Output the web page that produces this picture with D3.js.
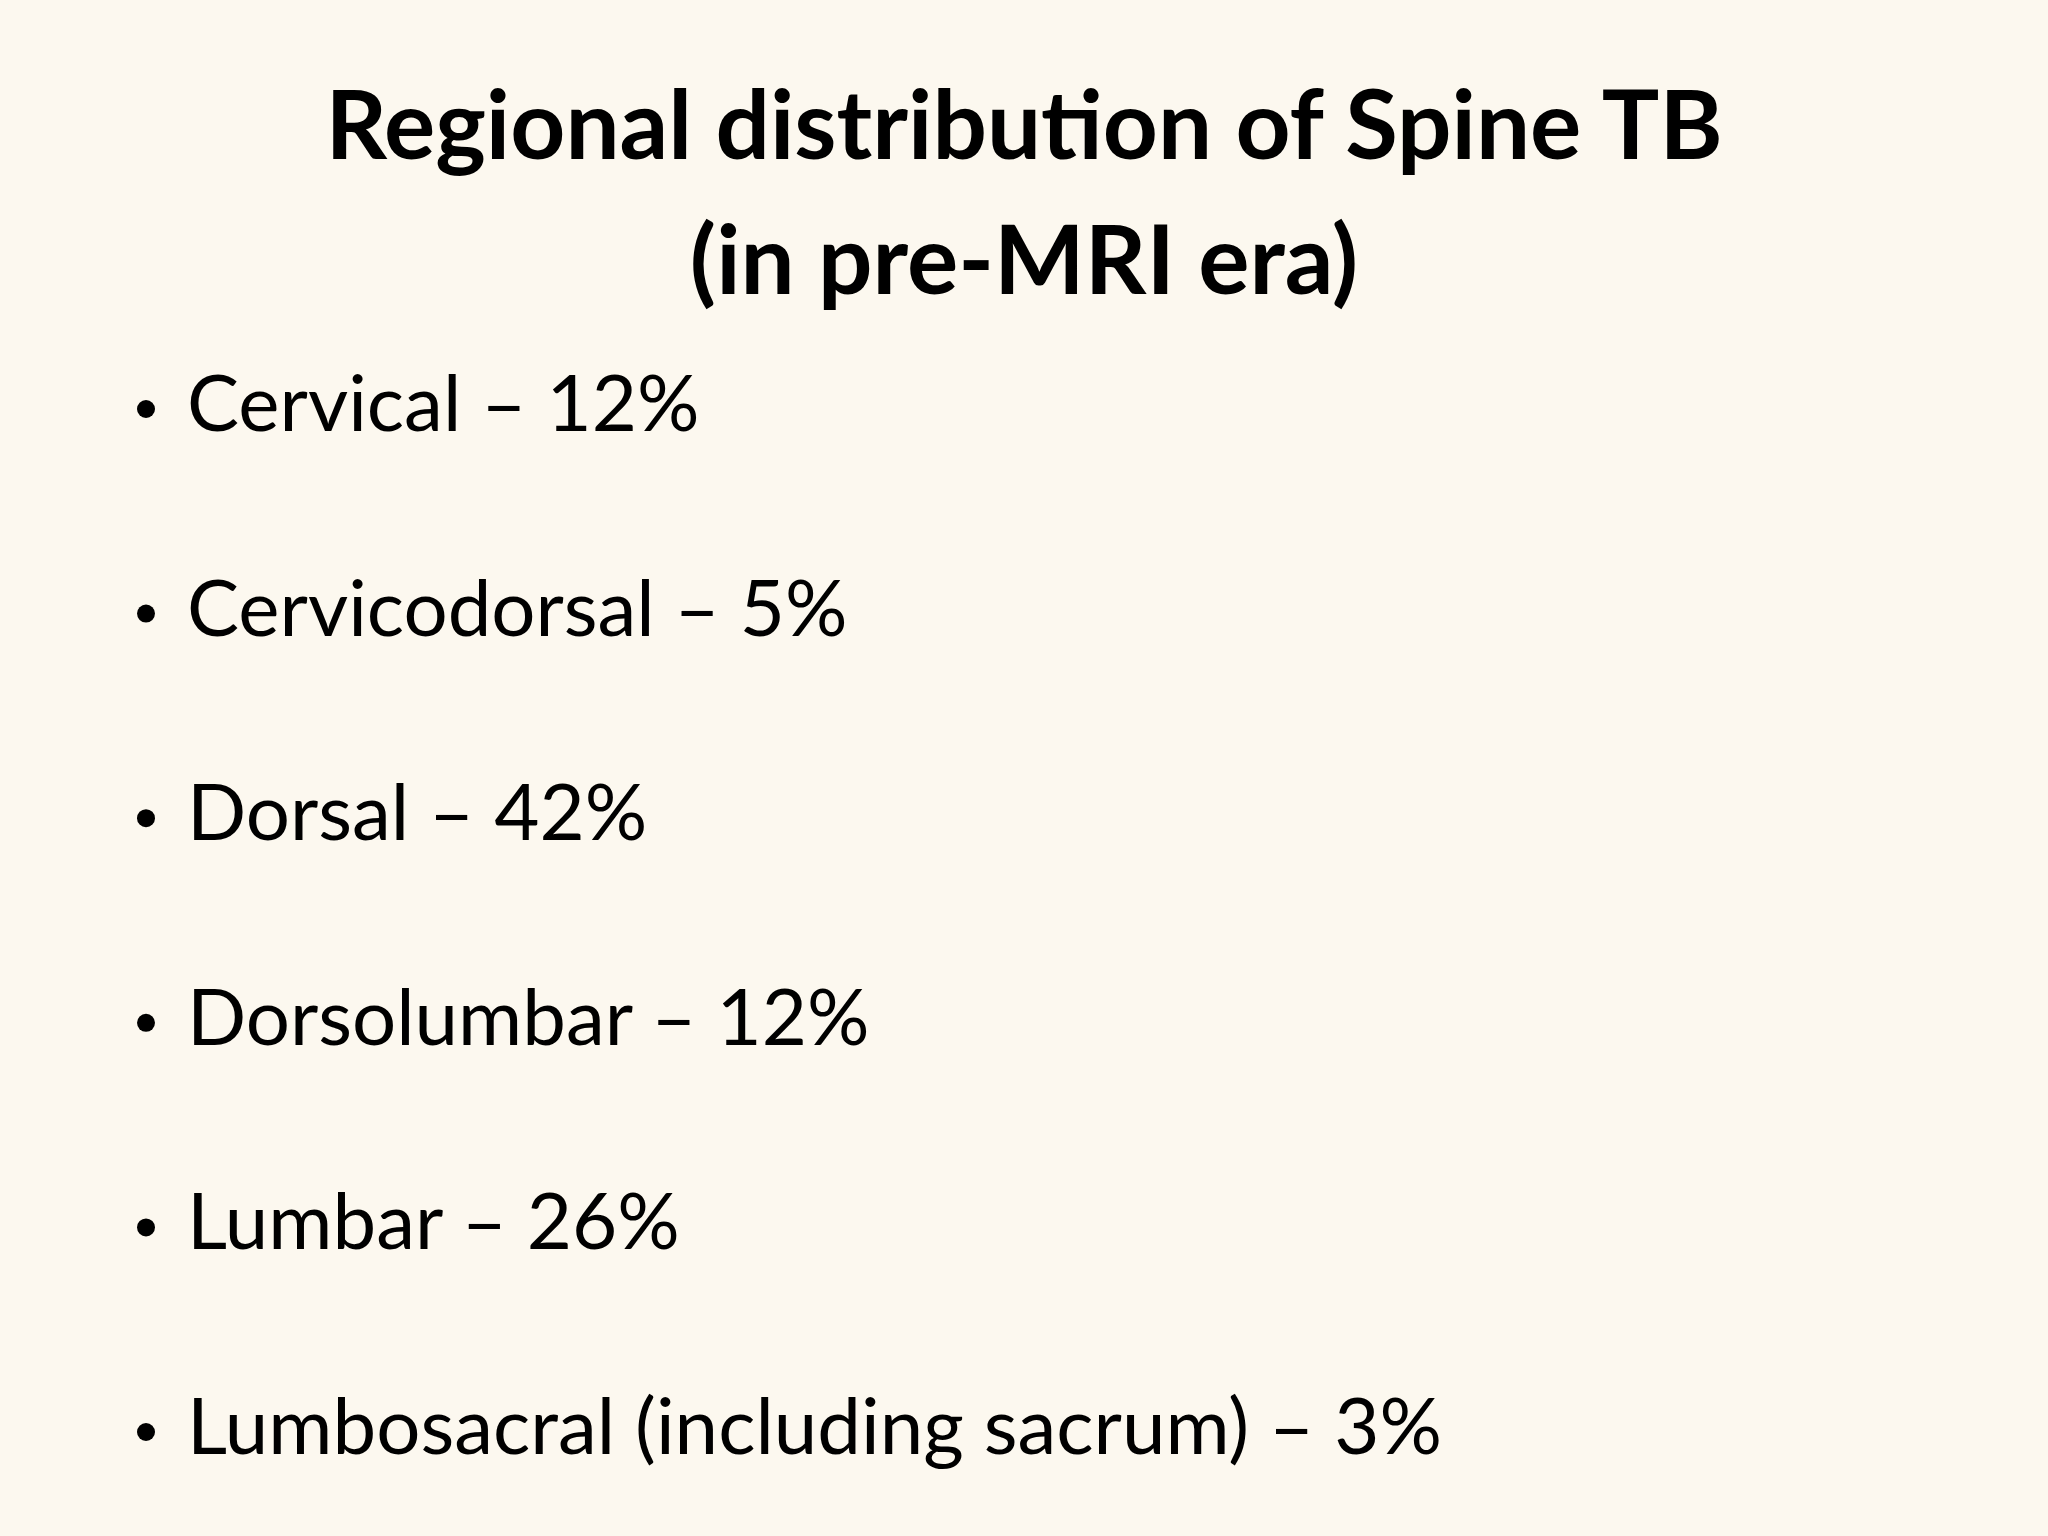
<!DOCTYPE html>
<html><head><meta charset="utf-8">
<script src="https://cdn.jsdelivr.net/npm/d3@7"></script>
<style>body{margin:0;background:#fcf8ef}</style></head>
<body><svg id="c" width="2048" height="1536"></svg>
<script>
const titleLines = ["Regional distribution of Spine TB", "(in pre-MRI era)"];
const categories = ["Cervical", "Cervicodorsal", "Dorsal", "Dorsolumbar", "Lumbar", "Lumbosacral (including sacrum)"];
const values = [12, 5, 42, 12, 26, 3];

const svg = d3.select("#c");
svg.append("rect").attr("width",2048).attr("height",1536).attr("fill","#fcf8ef");
const font = "Lato, 'Open Sans', sans-serif";
svg.selectAll("text.t").data(titleLines).join("text").attr("class","t")
  .attr("x",1024).attr("y",(d,i)=>159+i*135).attr("text-anchor","middle")
  .attr("font-family",font).attr("font-weight","bold").attr("font-size",96).attr("fill","#000")
  .text(d=>d);
const y = d3.scalePoint().domain(categories).range([431,1454]);
const g = svg.selectAll("g.b").data(categories).join("g").attr("class","b")
  .attr("transform",d=>`translate(0,${y(d)})`);
g.append("circle").attr("cx",146).attr("cy",-22).attr("r",9).attr("fill","#000");
g.append("text").attr("x",187).attr("font-family",font).attr("font-size",78).attr("fill","#000")
  .text((d,i)=>`${d} – ${values[i]}%`);
</script></body></html>
